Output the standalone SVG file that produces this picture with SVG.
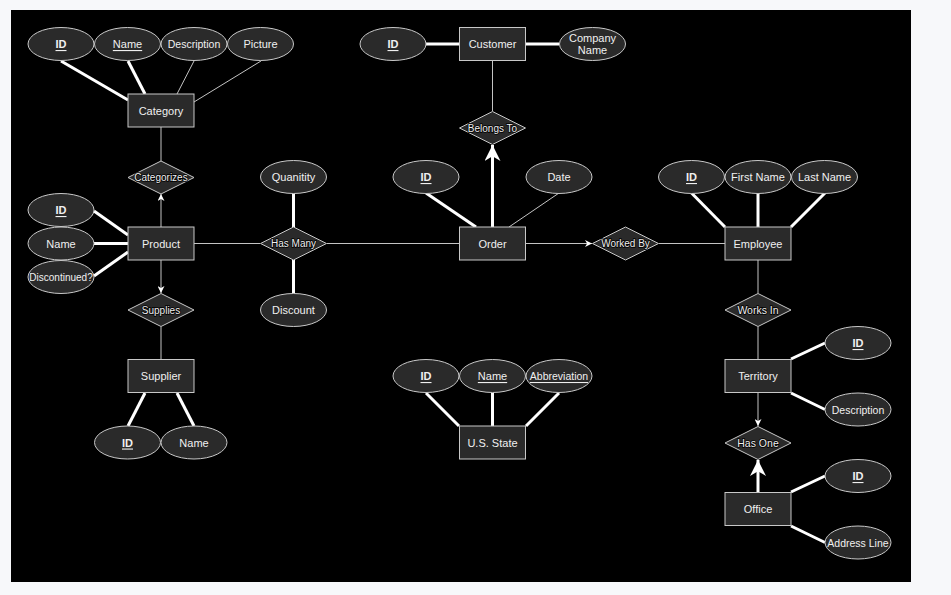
<svg xmlns="http://www.w3.org/2000/svg" width="951" height="595" viewBox="0 0 951 595">
<defs>
<style>
.ent rect{fill:#2a2a2a;stroke:#c8c8c8;stroke-width:1}
.att ellipse{fill:#2a2a2a;stroke:#c8c8c8;stroke-width:1}
.rel polygon{fill:#2a2a2a;stroke:#c8c8c8;stroke-width:1}
text{font-family:"Liberation Sans",Arial,sans-serif;font-size:11px;fill:#f0f0f0;text-anchor:middle;dominant-baseline:central}
.rel text{font-size:10px;stroke:#000;stroke-width:1.5px;paint-order:stroke}
.key{text-decoration:underline;font-weight:bold}
.ukey{text-decoration:underline}
.thick{stroke:#ffffff;stroke-width:3;fill:none}
.thin{stroke:#c4c4c4;stroke-width:1;fill:none}
</style>
<marker id="sm" viewBox="0 0 10 10" refX="10" refY="5" markerWidth="7" markerHeight="7" markerUnits="userSpaceOnUse" orient="auto">
<path d="M0,0 L10,5 L0,10 L3,5 Z" fill="#ffffff"/>
</marker>
<marker id="big" viewBox="0 0 10 10" refX="10" refY="5" markerWidth="16" markerHeight="16" markerUnits="userSpaceOnUse" orient="auto">
<path d="M0,0 L10,5 L0,10 L3,5 Z" fill="#ffffff"/>
</marker>
</defs>
<rect x="0" y="0" width="951" height="595" fill="#f7f8fa"/>
<rect x="11" y="10" width="900" height="572" fill="#000000"/>

<g id="connectors">
<line class="thick" x1="61" y1="61" x2="128" y2="100"/>
<line class="thick" x1="128" y1="61" x2="145" y2="94"/>
<line class="thin" x1="194" y1="61" x2="177" y2="94"/>
<line class="thin" x1="261" y1="61" x2="194" y2="102"/>
<line class="thin" x1="161" y1="127" x2="161" y2="161"/>
<line class="thin" x1="161" y1="227" x2="161" y2="194" marker-end="url(#sm)"/>
<line class="thick" x1="94" y1="211" x2="128" y2="235"/>
<line class="thick" x1="94" y1="243.5" x2="128" y2="243.5"/>
<line class="thick" x1="94" y1="276" x2="128" y2="252"/>
<line class="thin" x1="194" y1="243.5" x2="260" y2="243.5"/>
<line class="thin" x1="327" y1="243.5" x2="459" y2="243.5"/>
<line class="thick" x1="293.5" y1="193.5" x2="293.5" y2="227"/>
<line class="thick" x1="293.5" y1="260" x2="293.5" y2="293.5"/>
<line class="thin" x1="161" y1="260" x2="161" y2="293" marker-end="url(#sm)"/>
<line class="thin" x1="161" y1="327" x2="161" y2="359"/>
<line class="thick" x1="145" y1="393" x2="128" y2="426"/>
<line class="thick" x1="177" y1="393" x2="194" y2="426"/>
<line class="thick" x1="426" y1="44" x2="459" y2="44"/>
<line class="thick" x1="526" y1="44" x2="559" y2="44"/>
<line class="thin" x1="492.5" y1="60" x2="492.5" y2="111"/>
<line class="thick" x1="492.5" y1="227" x2="492.5" y2="145" marker-end="url(#big)"/>
<line class="thick" x1="426" y1="193" x2="476" y2="227"/>
<line class="thin" x1="559" y1="193" x2="509" y2="227"/>
<line class="thin" x1="526" y1="243.5" x2="592" y2="243.5" marker-end="url(#sm)"/>
<line class="thin" x1="659" y1="243.5" x2="725" y2="243.5"/>
<line class="thick" x1="691.5" y1="193" x2="725" y2="227"/>
<line class="thick" x1="758" y1="193" x2="758" y2="227"/>
<line class="thick" x1="825" y1="193" x2="791" y2="227"/>
<line class="thin" x1="758" y1="260" x2="758" y2="293"/>
<line class="thin" x1="758" y1="327" x2="758" y2="359"/>
<line class="thick" x1="791" y1="359" x2="825" y2="343"/>
<line class="thick" x1="791" y1="393" x2="825" y2="409.5"/>
<line class="thin" x1="758" y1="393" x2="758" y2="426" marker-end="url(#sm)"/>
<line class="thick" x1="758" y1="492" x2="758" y2="460" marker-end="url(#big)"/>
<line class="thick" x1="791" y1="492" x2="825" y2="476"/>
<line class="thick" x1="791" y1="526" x2="825" y2="542.5"/>
<line class="thick" x1="426" y1="393" x2="459" y2="426"/>
<line class="thick" x1="492.5" y1="393" x2="492.5" y2="426"/>
<line class="thick" x1="559" y1="393" x2="526" y2="426"/>
</g>

<g id="category-id" class="att"><ellipse cx="61" cy="44" rx="33" ry="16.5"/><text x="61" y="44" class="key">ID</text></g>
<g id="category-name" class="att"><ellipse cx="127.5" cy="44" rx="33" ry="16.5"/><text x="127.5" y="44" class="ukey">Name</text></g>
<g id="category-description" class="att"><ellipse cx="194" cy="44" rx="33" ry="16.5"/><text x="194" y="44" style="font-size:10.5px">Description</text></g>
<g id="category-picture" class="att"><ellipse cx="260.5" cy="44" rx="33" ry="16.5"/><text x="260.5" y="44">Picture</text></g>
<g id="category" class="ent"><rect x="128" y="94" width="66" height="33"/><text x="161" y="110.5">Category</text></g>
<g id="categorizes" class="rel"><polygon points="161,161 194,177.5 161,194 128,177.5"/><text x="161" y="177.5">Categorizes</text></g>
<g id="quanitity" class="att"><ellipse cx="293.5" cy="177" rx="33" ry="16.5"/><text x="293.5" y="177">Quanitity</text></g>

<g id="product-id" class="att"><ellipse cx="61" cy="210" rx="33" ry="16.5"/><text x="61" y="210" class="key">ID</text></g>
<g id="product-name" class="att"><ellipse cx="61" cy="243.5" rx="33" ry="16.5"/><text x="61" y="243.5">Name</text></g>
<g id="product-discontinued" class="att"><ellipse cx="61" cy="277" rx="33" ry="16.5"/><text x="61" y="277" style="font-size:10px">Discontinued?</text></g>
<g id="product" class="ent"><rect x="128" y="227" width="66" height="33"/><text x="161" y="243.5">Product</text></g>
<g id="has-many" class="rel"><polygon points="293.5,227 326.5,243.5 293.5,260 260.5,243.5"/><text x="293.5" y="243.5">Has Many</text></g>
<g id="discount" class="att"><ellipse cx="293.5" cy="310" rx="33" ry="16.5"/><text x="293.5" y="310">Discount</text></g>
<g id="supplies" class="rel"><polygon points="161,293.5 194,310 161,326.5 128,310"/><text x="161" y="310">Supplies</text></g>
<g id="supplier" class="ent"><rect x="128" y="359.5" width="66" height="33"/><text x="161" y="376">Supplier</text></g>
<g id="supplier-id" class="att"><ellipse cx="127.5" cy="442.5" rx="33" ry="16.5"/><text x="127.5" y="442.5" class="key">ID</text></g>
<g id="supplier-name" class="att"><ellipse cx="194" cy="442.5" rx="33" ry="16.5"/><text x="194" y="442.5">Name</text></g>

<g id="customer-id" class="att"><ellipse cx="393" cy="44" rx="33" ry="16.5"/><text x="393" y="44" class="key">ID</text></g>
<g id="customer" class="ent"><rect x="459.5" y="27.5" width="66" height="33"/><text x="492.5" y="44">Customer</text></g>
<g id="company-name" class="att"><ellipse cx="592.5" cy="44" rx="33" ry="16.5"/><text x="592.5" y="38">Company</text><text x="592.5" y="50">Name</text></g>
<g id="belongs-to" class="rel"><polygon points="492.5,111.5 525.5,128 492.5,144.5 459.5,128"/><text x="492.5" y="128">Belongs To</text></g>

<g id="order-id" class="att"><ellipse cx="426" cy="177" rx="33" ry="16.5"/><text x="426" y="177" class="key">ID</text></g>
<g id="order-date" class="att"><ellipse cx="559" cy="177" rx="33" ry="16.5"/><text x="559" y="177">Date</text></g>
<g id="order" class="ent"><rect x="459.5" y="227" width="66" height="33"/><text x="492.5" y="243.5">Order</text></g>
<g id="worked-by" class="rel"><polygon points="625.5,227 658.5,243.5 625.5,260 592.5,243.5"/><text x="625.5" y="243.5">Worked By</text></g>

<g id="employee-id" class="att"><ellipse cx="691.5" cy="177" rx="33" ry="16.5"/><text x="691.5" y="177" class="key">ID</text></g>
<g id="employee-first-name" class="att"><ellipse cx="758" cy="177" rx="33" ry="16.5"/><text x="758" y="177">First Name</text></g>
<g id="employee-last-name" class="att"><ellipse cx="824.5" cy="177" rx="33" ry="16.5"/><text x="824.5" y="177">Last Name</text></g>
<g id="employee" class="ent"><rect x="725" y="227" width="66" height="33"/><text x="758" y="243.5">Employee</text></g>
<g id="works-in" class="rel"><polygon points="758,293.5 791,310 758,326.5 725,310"/><text x="758" y="310" style="font-size:10.5px">Works In</text></g>

<g id="territory" class="ent"><rect x="725" y="359.5" width="66" height="33"/><text x="758" y="376">Territory</text></g>
<g id="territory-id" class="att"><ellipse cx="858" cy="343" rx="33" ry="16.5"/><text x="858" y="343" class="key">ID</text></g>
<g id="territory-description" class="att"><ellipse cx="858" cy="409.5" rx="33" ry="16.5"/><text x="858" y="409.5" style="font-size:10.5px">Description</text></g>
<g id="has-one" class="rel"><polygon points="758,426.5 791,443 758,459.5 725,443"/><text x="758" y="443" style="font-size:10.5px">Has One</text></g>

<g id="office" class="ent"><rect x="725" y="492.5" width="66" height="33"/><text x="758" y="509">Office</text></g>
<g id="office-id" class="att"><ellipse cx="858" cy="476" rx="33" ry="16.5"/><text x="858" y="476" class="key">ID</text></g>
<g id="office-address" class="att"><ellipse cx="858" cy="542.5" rx="33" ry="16.5"/><text x="858" y="542.5" style="font-size:10.5px">Address Line</text></g>

<g id="state-id" class="att"><ellipse cx="426" cy="376" rx="33" ry="16.5"/><text x="426" y="376" class="key">ID</text></g>
<g id="state-name" class="att"><ellipse cx="492.5" cy="376" rx="33" ry="16.5"/><text x="492.5" y="376" class="ukey">Name</text></g>
<g id="state-abbreviation" class="att"><ellipse cx="559" cy="376" rx="33" ry="16.5"/><text x="559" y="376" class="ukey" style="font-size:10.5px">Abbreviation</text></g>
<g id="us-state" class="ent"><rect x="459.5" y="426" width="66" height="33"/><text x="492.5" y="442.5">U.S. State</text></g>
</svg>
